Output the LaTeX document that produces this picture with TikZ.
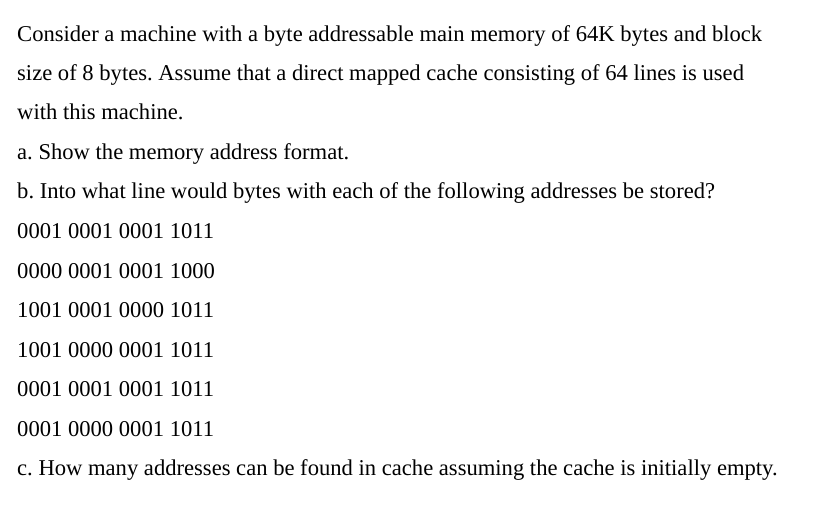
\documentclass[tikz,border=0pt]{standalone}
\usepackage{fontspec}
\setmainfont{Liberation Serif}
\frenchspacing
\begin{document}
\begin{tikzpicture}[x=1pt,y=-1pt,t/.style={anchor=base west,inner sep=0pt,font=\fontsize{22.6}{26}\selectfont}]
\useasboundingbox (0,0) rectangle (832,521);
\node[t] (l1) at (17,42) {Consider a machine with a byte addressable main memory of 64K bytes and block};
\node[t] (l2) at (17,81) {size of 8 bytes. Assume that a direct mapped cache consisting of 64 lines is used};
\node[t] (l3) at (17,120) {with this machine.};
\node[t] (l4) at (17,160) {a. Show the memory address format.};
\node[t] (l5) at (17,199) {b. Into what line would bytes with each of the following addresses be stored?};
\node[t] (l6) at (17,239) {0001 0001 0001 1011};
\node[t] (l7) at (17,278) {0000 0001 0001 1000};
\node[t] (l8) at (17,317) {1001 0001 0000 1011};
\node[t] (l9) at (17,357) {1001 0000 0001 1011};
\node[t] (l10) at (17,396) {0001 0001 0001 1011};
\node[t] (l11) at (17,436) {0001 0000 0001 1011};
\node[t] (l12) at (17,475) {c. How many addresses can be found in cache assuming the cache is initially empty.};
\end{tikzpicture}
\end{document}
